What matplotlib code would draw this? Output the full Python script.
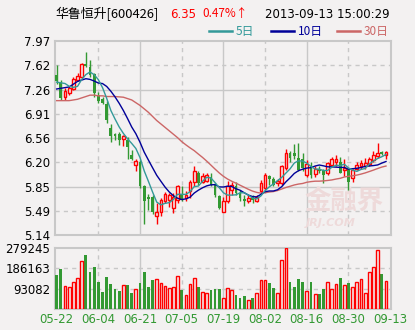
import matplotlib
matplotlib.use("Agg")
import matplotlib.pyplot as plt
from matplotlib.lines import Line2D
import numpy as np

BG = "#f3f1f1"
UP = "#ff0000"
DOWN = "#339933"
GRID = "#c8c8c8"
MA5_C = "#339999"
MA10_C = "#000099"
MA30_C = "#cc6666"
CJK = ["Noto Sans CJK SC", "DejaVu Sans"]

# daily bars, 2013-05-22 .. 2013-09-13
opens = [7.48, 7.37, 7.16, 7.21, 7.27, 7.40, 7.44, 7.64, 7.59, 7.49,
         7.18, 7.12, 7.05, 6.70, 6.61, 6.62, 6.54, 6.53, 6.31, 6.16,
         6.21, 5.85, 5.69, 5.69, 5.41, 5.48, 5.63, 5.65, 5.53, 5.65,
         5.74, 5.68, 5.78, 5.92, 6.04, 5.92, 5.93, 5.99, 5.87, 5.71,
         5.48, 5.63, 5.80, 5.86, 5.75, 5.66, 5.63, 5.70, 5.63, 5.78,
         5.82, 6.00, 5.95, 5.90, 5.90, 6.12, 6.33, 6.33, 6.26, 6.25,
         6.02, 6.15, 6.03, 6.10, 6.09, 6.04, 6.16, 6.20, 6.21, 6.09,
         6.10, 5.97, 6.10, 6.14, 6.14, 6.18, 6.24, 6.29, 6.35, 6.30]
highs = [7.62, 7.40, 7.29, 7.31, 7.44, 7.50, 7.65, 7.81, 7.69, 7.51,
         7.22, 7.16, 7.09, 6.76, 6.63, 6.64, 6.60, 6.57, 6.38, 6.25,
         6.24, 5.87, 5.74, 5.73, 5.60, 5.68, 5.76, 5.75, 5.75, 5.87,
         5.85, 5.78, 5.94, 6.14, 6.07, 6.04, 6.04, 6.04, 5.90, 5.73,
         5.70, 5.93, 5.92, 5.92, 5.80, 5.73, 5.73, 5.73, 5.73, 5.94,
         6.04, 6.02, 5.99, 5.95, 6.16, 6.39, 6.37, 6.47, 6.48, 6.33,
         6.24, 6.20, 6.14, 6.14, 6.11, 6.21, 6.28, 6.31, 6.28, 6.25,
         6.11, 6.11, 6.21, 6.24, 6.26, 6.28, 6.36, 6.48, 6.37, 6.37]
lows = [7.34, 7.11, 7.11, 7.18, 7.25, 7.38, 7.43, 7.59, 7.45, 7.16,
        7.06, 7.05, 6.78, 6.49, 6.52, 6.45, 6.44, 6.25, 6.23, 6.08,
        5.82, 5.30, 5.51, 5.44, 5.30, 5.41, 5.61, 5.55, 5.46, 5.61,
        5.63, 5.63, 5.68, 5.85, 5.87, 5.90, 5.92, 5.85, 5.70, 5.52,
        5.47, 5.60, 5.73, 5.73, 5.63, 5.57, 5.61, 5.61, 5.62, 5.75,
        5.80, 5.87, 5.85, 5.85, 5.87, 6.09, 6.21, 6.25, 6.07, 6.07,
        5.99, 5.97, 5.99, 6.04, 5.90, 6.02, 6.14, 6.14, 6.04, 6.00,
        5.79, 5.92, 6.09, 6.11, 6.11, 6.15, 6.21, 6.27, 6.30, 6.25]
closes = [7.39, 7.14, 7.24, 7.29, 7.41, 7.46, 7.64, 7.60, 7.48, 7.21,
          7.10, 7.06, 6.82, 6.59, 6.59, 6.52, 6.59, 6.43, 6.25, 6.22,
          5.85, 5.63, 5.67, 5.47, 5.48, 5.65, 5.74, 5.72, 5.70, 5.86,
          5.65, 5.73, 5.92, 6.07, 5.90, 6.00, 6.02, 5.87, 5.73, 5.53,
          5.63, 5.85, 5.87, 5.75, 5.68, 5.63, 5.68, 5.65, 5.69, 5.90,
          6.02, 5.95, 5.87, 5.93, 6.14, 6.33, 6.26, 6.29, 6.09, 6.12,
          6.18, 6.02, 6.10, 6.08, 6.02, 6.19, 6.25, 6.25, 6.05, 6.12,
          5.92, 6.09, 6.16, 6.19, 6.19, 6.25, 6.31, 6.34, 6.32, 6.35]
volumes = [156500, 184100, 104300, 99700, 122700, 141200, 219400, 248600, 170300, 193300,
           124300, 78300, 147300, 115100, 92100, 82900, 108900, 110500, 73600, 90500,
           119700, 170300, 101300, 133500, 136600, 118100, 104300, 95100, 99700, 150400,
           87500, 62900, 113500, 141200, 101300, 76700, 72100, 87500, 92100, 92100,
           49100, 95100, 85900, 64400, 50600, 59800, 39900, 50600, 73600, 131900,
           131900, 119700, 96700, 72100, 224000, 279245, 124300, 101300, 138100, 124300,
           81300, 124300, 67500, 69000, 92100, 122700, 90500, 113500, 142700, 108900,
           119700, 99700, 122700, 136600, 72100, 168800, 191800, 270000, 161100, 127400]

# moving-average values before enough bars are on screen
ma5_head = [7.37, 7.36, 7.35, 7.31]
ma10_head = [7.27, 7.28, 7.29, 7.30, 7.34, 7.38, 7.40, 7.42, 7.41]
ma30_head = [7.10, 7.10, 7.10, 7.10, 7.11, 7.12, 7.14, 7.16, 7.18, 7.18,
             7.17, 7.17, 7.16, 7.16, 7.16, 7.155, 7.15, 7.13, 7.11, 7.07,
             7.03, 6.98, 6.93, 6.87, 6.81, 6.76, 6.71, 6.66, 6.61]

date_labels = ["05-22", "06-04", "06-21", "07-05", "07-19",
               "08-02", "08-16", "08-30", "09-13"]
price_ticks = ["5.14", "5.49", "5.85", "6.20", "6.56", "6.91", "7.26", "7.62", "7.97"]
vol_ticks = [93082, 186163, 279245]


def moving_avg(vals, n, head):
    out = list(head)
    for i in range(len(head), len(vals)):
        out.append(np.mean(vals[i - n + 1:i + 1]))
    return out


def style_axis(ax):
    ax.set_facecolor(BG)
    for s in ax.spines.values():
        s.set_color(GRID)
        s.set_linewidth(1.5)
    ax.tick_params(length=0)


o = np.array(opens); h = np.array(highs); l = np.array(lows); c = np.array(closes)
x = np.arange(len(c))
up = c >= o
W = 0.66

fig = plt.figure(figsize=(4.15, 3.3), dpi=100, facecolor=BG)
ax = fig.add_axes([55 / 415, 1 - 235 / 330, 336 / 415, 194 / 330])
axv = fig.add_axes([55 / 415, 1 - 309 / 330, 336 / 415, 61 / 330])
style_axis(ax)
style_axis(axv)

XMIN, XMAX = -0.4, 80.2
pmin, pmax = float(price_ticks[0]), float(price_ticks[-1])
pvals = np.linspace(pmin, pmax, len(price_ticks))

# grid
for k in range(1, 8):
    ls = (0, (3, 3)) if k % 2 else "-"
    for a in (ax, axv):
        a.axvline(k * 10, color=GRID, lw=1, ls=ls, zorder=0)
for k, pv in enumerate(pvals[1:-1], start=1):
    ax.axhline(pv, color=GRID, lw=1, ls=(0, (3, 3)) if k % 2 else "-", zorder=0)
for v in vol_ticks[:-1]:
    axv.axhline(v, color=GRID, lw=1, ls=(0, (3, 3)), zorder=0)

# candles
ax.vlines(x[~up], l[~up], h[~up], color=DOWN, lw=1, zorder=2)
ax.bar(x[~up], (o - c)[~up], bottom=c[~up], width=W, color=DOWN, lw=0, zorder=3)
body_lo = np.minimum(o, c)
body_hi = np.maximum(o, c)
ax.vlines(x[up], l[up], body_lo[up], color=UP, lw=1, zorder=2)
ax.vlines(x[up], body_hi[up], h[up], color=UP, lw=1, zorder=2)
ax.bar(x[up], np.maximum((c - o)[up], 0.008), bottom=o[up], width=W,
       facecolor=BG, edgecolor=UP, lw=1, zorder=3)

ma5 = moving_avg(c, 5, ma5_head)
ma10 = moving_avg(c, 10, ma10_head)
ma30 = moving_avg(c, 30, ma30_head)
ax.plot(x, ma30, color=MA30_C, lw=1, zorder=4)
ax.plot(x, ma10, color=MA10_C, lw=1, zorder=4)
ax.plot(x, ma5, color=MA5_C, lw=1, zorder=4)

# watermark
ax.text(0.86, 0.17, "金融界", transform=ax.transAxes, ha="center", va="center",
        fontsize=19, fontweight="bold", color="#eedada", family=CJK, zorder=1)
ax.text(0.82, 0.06, "JRJ.COM", transform=ax.transAxes, ha="center", va="center",
        fontsize=8, fontweight="bold", style="italic", color="#eedada", zorder=1)

ax.set_xlim(XMIN, XMAX)
ax.set_ylim(pmin, pmax)
ax.set_yticks(pvals)
ax.set_yticklabels(price_ticks, fontsize=8.5)
ax.set_xticks([])

# volume
vol = np.array(volumes)
axv.bar(x[~up], vol[~up], width=W, color=DOWN, lw=0, zorder=3)
axv.bar(x[up], vol[up], width=W, facecolor=BG, edgecolor=UP, lw=1, zorder=3)
axv.set_xlim(XMIN, XMAX)
axv.set_ylim(0, vol_ticks[-1])
axv.set_yticks(vol_ticks)
axv.set_yticklabels([str(v) for v in vol_ticks], fontsize=8.5)
axv.set_xticks(np.arange(0, 81, 10))
axv.set_xticklabels(date_labels, fontsize=8.5, color=DOWN)
axv.tick_params(axis="x", pad=3)


# header
def fx(px):
    return px / 415


def fy(py):
    return 1 - py / 330


fig.text(fx(55), fy(14), "华鲁恒升[600426]", fontsize=9.3, family=CJK, va="center")
fig.text(fx(170), fy(14), "6.35", fontsize=8.5, color=UP, va="center")
fig.text(fx(202), fy(14), "0.47%↑", fontsize=8.5, color=UP, va="center", family=CJK)
fig.text(fx(390), fy(15), "2013-09-13 15:00:29", fontsize=8.5, ha="right", va="center")

for x0, label, col in [(209, "5日", MA5_C), (271, "10日", MA10_C), (337, "30日", MA30_C)]:
    fig.add_artist(Line2D([fx(x0), fx(x0 + 23)], [fy(31), fy(31)], color=col, lw=1.8))
    fig.text(fx(x0 + 27), fy(31), label, fontsize=8.5, color=col, va="center", family=CJK)

fig.savefig("out.png", dpi=100, facecolor=BG)
